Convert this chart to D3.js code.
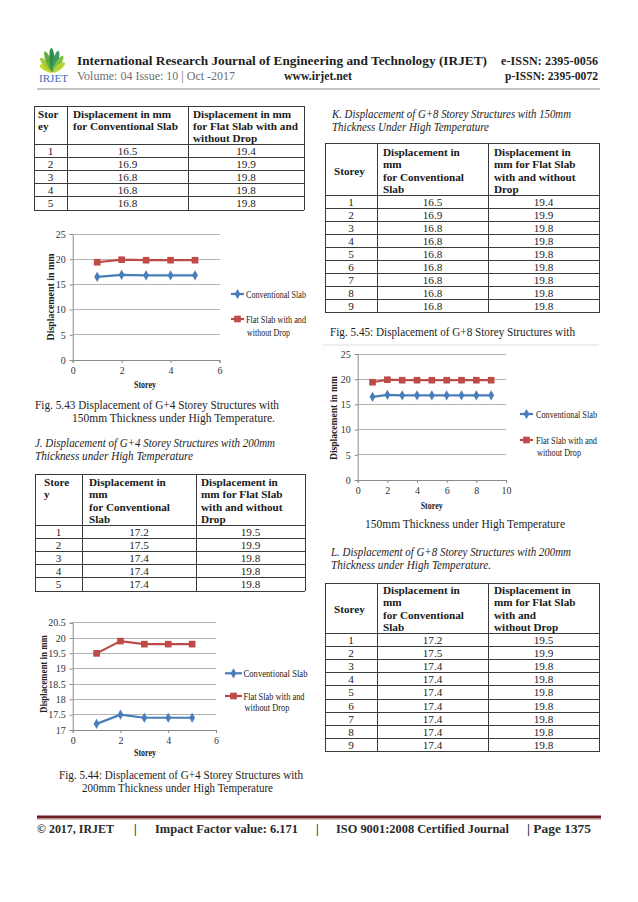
<!DOCTYPE html>
<html>
<head>
<meta charset="utf-8">
<script src="https://cdn.jsdelivr.net/npm/d3@7/dist/d3.min.js"></script>
<style>
  html, body { margin: 0; padding: 0; background: #fff; }
  svg { display: block; }
</style>
</head>
<body>
<svg id="page" width="638" height="902"></svg>
<script>
// ---------------- DATA ----------------
const storeys5 = [1, 2, 3, 4, 5];
const storeys9 = [1, 2, 3, 4, 5, 6, 7, 8, 9];
const conv150 = [16.5, 16.9, 16.8, 16.8, 16.8, 16.8, 16.8, 16.8, 16.8];
const flat150 = [19.4, 19.9, 19.8, 19.8, 19.8, 19.8, 19.8, 19.8, 19.8];
const conv200 = [17.2, 17.5, 17.4, 17.4, 17.4, 17.4, 17.4, 17.4, 17.4];
const flat200 = [19.5, 19.9, 19.8, 19.8, 19.8, 19.8, 19.8, 19.8, 19.8];
const yTicksA = [0, 5, 10, 15, 20, 25];
const yTicksB = [17, 17.5, 18, 18.5, 19, 19.5, 20, 20.5];
const xTicks5 = [0, 2, 4, 6];
const xTicks9 = [0, 2, 4, 6, 8, 10];
const seriesNames = ["Conventional Slab", "Flat Slab with and without Drop"];

// ---------------- HELPERS ----------------
const SERIF = "'Liberation Serif', 'Times New Roman', serif";
const svg = d3.select("#page");
const fmt = d3.format(".1f");

function T(sel, s, x, y, o = {}) {
  const t = sel.append("text").attr("x", x).attr("y", y).text(s)
    .attr("font-family", o.ff || SERIF)
    .attr("font-size", o.fs || 11)
    .attr("font-weight", o.fw || "normal")
    .attr("font-style", o.fi || "normal")
    .attr("fill", o.fill || "#222")
    .attr("text-anchor", o.anchor || "start");
  if (o.w) {
    if (o.fit) {
      const w0 = t.node().getComputedTextLength();
      if (w0 > o.w) t.attr("font-size", (o.fs || 11) * o.w / w0);
      t.attr("textLength", o.w).attr("lengthAdjust", "spacing");
    } else {
      t.attr("textLength", o.w).attr("lengthAdjust", "spacingAndGlyphs");
    }
  }
  return t;
}

// ---------------- HEADER ----------------
const logo = svg.append("g");
const leaves = [
  { a: -62, l: 15, c: "#c9d626" }, { a: -42, l: 19, c: "#a6c93a" },
  { a: -22, l: 22, c: "#5fae3f" }, { a: -4, l: 24, c: "#2f8f46" },
  { a: 14, l: 22, c: "#3b9a6a" }, { a: 32, l: 19, c: "#7fbf3f" },
  { a: 52, l: 15, c: "#b5d334" }
];
leaves.forEach(d => {
  logo.append("ellipse").attr("cx", 0).attr("cy", -d.l / 2).attr("rx", 2.7).attr("ry", d.l / 2)
    .attr("fill", d.c).attr("transform", `translate(53,72) rotate(${d.a})`);
});
T(logo, "IRJET", 39, 82, { fs: 9.5, fill: "#3b6db3", w: 29 });

T(svg, "International Research Journal of Engineering and Technology (IRJET)", 77, 65, { fs: 14.5, fw: "bold", fill: "#1e1e1e", w: 410, fit: true });
T(svg, "e-ISSN: 2395-0056", 501, 65, { fs: 12, fw: "bold", fill: "#1e1e1e", w: 97, fit: true });
T(svg, "Volume: 04 Issue: 10 | Oct -2017", 77, 80, { fs: 11.5, fill: "#6e6e6e", w: 158 });
T(svg, "www.irjet.net", 284, 80, { fs: 12, fw: "bold", fill: "#1e1e1e", w: 68 });
T(svg, "p-ISSN: 2395-0072", 505, 80, { fs: 12, fw: "bold", fill: "#1e1e1e", w: 93 });
svg.append("line").attr("x1", 37).attr("x2", 600).attr("y1", 89).attr("y2", 89)
  .attr("stroke", "#b0b0b0").attr("stroke-width", 1.5);

// ---------------- TABLES ----------------
function drawTable(cfg) {
  const g = svg.append("g");
  const [L, D1, D2, R] = cfg.cols;
  const bottom = cfg.hb + cfg.rowH * cfg.rows.length;
  const line = (x1, y1, x2, y2) => g.append("line").attr("x1", x1).attr("y1", y1).attr("x2", x2).attr("y2", y2)
    .attr("stroke", "#3a3a3a").attr("stroke-width", 1).attr("shape-rendering", "crispEdges");
  line(L, cfg.top, R, cfg.top);
  line(L, cfg.hb, R, cfg.hb);
  cfg.rows.forEach((r, i) => line(L, cfg.hb + cfg.rowH * (i + 1), R, cfg.hb + cfg.rowH * (i + 1)));
  [L, D1, D2, R].forEach(x => line(x, cfg.top, x, bottom));
  cfg.header.forEach(h => {
    h.lines.forEach((s, k) => T(g, s, h.x, h.y + k * cfg.lh, { fs: 11.2, fw: "bold", fill: "#1a1a1a" }));
  });
  cfg.rows.forEach((r, i) => {
    const y = cfg.hb + cfg.rowH * (i + 0.5) + 4;
    T(g, String(r[0]), (L + D1) / 2, y, { fs: 11.2, anchor: "middle" });
    T(g, fmt(r[1]), (D1 + D2) / 2, y, { fs: 11.2, anchor: "middle" });
    T(g, fmt(r[2]), (D2 + R) / 2, y, { fs: 11.2, anchor: "middle" });
  });
}

drawTable({
  cols: [34, 67, 188, 304], top: 106, hb: 144.5, rowH: 13.1, lh: 12,
  header: [
    { x: 38, y: 118, lines: ["Stor", "ey"] },
    { x: 73, y: 118, lines: ["Displacement in mm", "for Conventional Slab"] },
    { x: 193, y: 118, lines: ["Displacement in mm", "for Flat Slab with and", "without Drop"] }
  ],
  rows: storeys5.map((s, i) => [s, conv150[i], flat150[i]])
});

drawTable({
  cols: [35, 82, 196, 305], top: 474, hb: 525, rowH: 13.2, lh: 12.4,
  header: [
    { x: 44, y: 486, lines: ["Store", "y"] },
    { x: 89, y: 486, lines: ["Displacement in", "mm", "for Conventional", "Slab"] },
    { x: 201, y: 486, lines: ["Displacement in", "mm for Flat Slab", "with and without", "Drop"] }
  ],
  rows: storeys5.map((s, i) => [s, conv200[i], flat200[i]])
});

drawTable({
  cols: [325, 377, 488, 599], top: 143, hb: 195, rowH: 13.1, lh: 12.5,
  header: [
    { x: 334, y: 174.5, lines: ["Storey"] },
    { x: 383, y: 155.5, lines: ["Displacement in", "mm", "for Conventional", "Slab"] },
    { x: 494, y: 155.5, lines: ["Displacement in", "mm for Flat Slab", "with and without", "Drop"] }
  ],
  rows: storeys9.map((s, i) => [s, conv150[i], flat150[i]])
});

drawTable({
  cols: [325, 377, 488, 599], top: 583, hb: 633, rowH: 13.2, lh: 12.4,
  header: [
    { x: 334, y: 613, lines: ["Storey"] },
    { x: 383, y: 594, lines: ["Displacement in", "mm", "for Conventional", "Slab"] },
    { x: 494, y: 594, lines: ["Displacement in", "mm for Flat Slab", "with and", "without Drop"] }
  ],
  rows: storeys9.map((s, i) => [s, conv200[i], flat200[i]])
});

// ---------------- CAPTIONS / HEADINGS ----------------
const cap = { fs: 11.8, fill: "#1e1e1e" };
T(svg, "Fig. 5.43 Displacement of G+4 Storey Structures with", 35, 409, { ...cap, w: 244 });
T(svg, "150mm Thickness under High Temperature.", 72, 422, { ...cap, w: 203 });
T(svg, "J. Displacement of G+4 Storey Structures with 200mm", 35, 447, { ...cap, fi: "italic", w: 240 });
T(svg, "Thickness under High Temperature", 35, 460, { ...cap, fi: "italic", w: 158 });
T(svg, "Fig. 5.44: Displacement of G+4 Storey Structures with", 59, 779, { ...cap, w: 244 });
T(svg, "200mm Thickness under High Temperature", 82, 792, { ...cap, w: 191 });
T(svg, "K. Displacement of G+8 Storey Structures with 150mm", 332, 118, { ...cap, fi: "italic", w: 239 });
T(svg, "Thickness Under High Temperature", 332, 131, { ...cap, fi: "italic", w: 157 });
T(svg, "Fig. 5.45: Displacement of G+8 Storey Structures with", 330, 336, { ...cap, w: 245 });
svg.append("line").attr("x1", 323).attr("x2", 599).attr("y1", 345).attr("y2", 345)
  .attr("stroke", "#dcdcdc").attr("stroke-width", 1);
T(svg, "150mm Thickness under High Temperature", 365, 528, { ...cap, w: 200 });
T(svg, "L. Displacement of G+8 Storey Structures with 200mm", 331, 556, { ...cap, fi: "italic", w: 240 });
T(svg, "Thickness under High Temperature.", 331, 569, { ...cap, fi: "italic", w: 160 });

// ---------------- CHARTS ----------------
const BLUE = "#4a7ebb", RED = "#be4b48";
function drawChart(c) {
  const g = svg.append("g");
  const x = d3.scaleLinear().domain(c.xDomain).range([c.x0, c.x1]);
  const y = d3.scaleLinear().domain(c.yDomain).range([c.yb, c.yt]);
  g.selectAll(".grid").data(c.yTicks).enter().append("line")
    .attr("x1", c.x0).attr("x2", c.x1).attr("y1", d => y(d)).attr("y2", d => y(d))
    .attr("stroke", d => d === c.yDomain[0] ? "#8a8a8a" : "#b4b4b4").attr("stroke-width", 1)
    .attr("shape-rendering", "crispEdges");
  const ya = g.append("g").attr("transform", `translate(${c.x0},0)`)
    .call(d3.axisLeft(y).tickValues(c.yTicks).tickSize(3).tickPadding(4).tickFormat(d => String(d)));
  ya.select(".domain").attr("stroke", "#8a8a8a");
  ya.selectAll(".tick line").attr("stroke", "#8a8a8a");
  ya.selectAll(".tick text").attr("font-family", SERIF).attr("font-size", 10).attr("fill", "#333");
  const xa = g.append("g").attr("transform", `translate(0,${c.yb})`)
    .call(d3.axisBottom(x).tickValues(c.xTicks).tickSize(3).tickPadding(4).tickFormat(d => String(d)));
  xa.select(".domain").attr("stroke", "#8a8a8a");
  xa.selectAll(".tick line").attr("stroke", "#8a8a8a");
  xa.selectAll(".tick text").attr("font-family", SERIF).attr("font-size", 10).attr("fill", "#333");
  T(g, "Storey", c.stx, c.sty, { fs: 10, fw: "bold", anchor: "middle", w: 22 });
  T(g, "Displacement in mm", 0, 0, { fs: 10, fw: "bold", anchor: "middle", w: c.ytw })
    .attr("transform", `translate(${c.ytx},${c.yty}) rotate(-90)`);
  const line = d3.line().x(d => x(d[0])).y(d => y(d[1]));
  const sets = [
    { pts: c.xs.map((s, i) => [s, c.conv[i]]), color: BLUE, shape: d3.symbolDiamond, size: 30 },
    { pts: c.xs.map((s, i) => [s, c.flat[i]]), color: RED, shape: d3.symbolSquare, size: 44 }
  ];
  sets.forEach(s => {
    g.append("path").attr("d", line(s.pts)).attr("fill", "none")
      .attr("stroke", s.color).attr("stroke-width", 2.2);
    g.selectAll(null).data(s.pts).enter().append("path")
      .attr("d", d3.symbol().type(s.shape).size(s.size))
      .attr("transform", d => `translate(${x(d[0])},${y(d[1])})`)
      .attr("fill", s.color);
  });
  const lg = c.legend;
  [[lg.y1, BLUE, d3.symbolDiamond, 30], [lg.y2, RED, d3.symbolSquare, 44]].forEach(([yy, col, sh, sz]) => {
    g.append("line").attr("x1", lg.lx0).attr("x2", lg.lx1).attr("y1", yy).attr("y2", yy)
      .attr("stroke", col).attr("stroke-width", 2.2);
    g.append("path").attr("d", d3.symbol().type(sh).size(sz))
      .attr("transform", `translate(${(lg.lx0 + lg.lx1) / 2},${yy})`).attr("fill", col);
  });
  T(g, lg.t1, lg.tx, lg.y1 + 3.5, { fs: 10, fill: "#222", w: lg.w1 });
  T(g, "Flat Slab with and", lg.tx, lg.y2 + 3.5, { fs: 10, fill: "#222", w: lg.w2 });
  T(g, "without Drop", lg.tx + 1, lg.y3 + 3.5, { fs: 10, fill: "#222", w: lg.w3 });
}

drawChart({
  x0: 72.7, x1: 219.5, yt: 234, yb: 360, xDomain: [0, 6], yDomain: [0, 25],
  xTicks: xTicks5, yTicks: yTicksA, xs: storeys5,
  conv: conv150.slice(0, 5), flat: flat150.slice(0, 5),
  stx: 145, sty: 388, ytx: 54, yty: 297, ytw: 87,
  legend: { lx0: 231, lx1: 244, tx: 246, y1: 294, y2: 319, y3: 332.5, t1: "Conventional Slab", w1: 60, w2: 60, w3: 43 }
});

drawChart({
  x0: 72.7, x1: 216, yt: 622.7, yb: 730, xDomain: [0, 6], yDomain: [17, 20.5],
  xTicks: xTicks5, yTicks: yTicksB, xs: storeys5,
  conv: conv200.slice(0, 5), flat: flat200.slice(0, 5),
  stx: 145, sty: 756, ytx: 47, yty: 674, ytw: 78,
  legend: { lx0: 225, lx1: 242, tx: 243.5, y1: 673.3, y2: 696, y3: 707, t1: "Conventional  Slab", w1: 64, w2: 61, w3: 45 }
});

drawChart({
  x0: 357.7, x1: 506, yt: 354, yb: 480, xDomain: [0, 10], yDomain: [0, 25],
  xTicks: xTicks9, yTicks: yTicksA, xs: storeys9,
  conv: conv150, flat: flat150,
  stx: 431.7, sty: 509, ytx: 337, yty: 418, ytw: 84,
  legend: { lx0: 520, lx1: 533, tx: 536, y1: 414, y2: 440, y3: 452, t1: "Conventional Slab", w1: 61, w2: 61, w3: 44 }
});

// ---------------- FOOTER ----------------
svg.append("line").attr("x1", 37).attr("x2", 601).attr("y1", 817).attr("y2", 817)
  .attr("stroke", "#6b1f22").attr("stroke-width", 3);
svg.append("line").attr("x1", 37).attr("x2", 601).attr("y1", 819.3).attr("y2", 819.3)
  .attr("stroke", "#c7a9a9").attr("stroke-width", 1);
const ft = { fs: 12, fw: "bold", fill: "#2a2a2a" };
T(svg, "© 2017, IRJET", 37, 833, { ...ft, w: 77 });
T(svg, "|", 134, 833, ft);
T(svg, "Impact Factor value: 6.171", 155, 833, { ...ft, w: 143 });
T(svg, "|", 316, 833, ft);
T(svg, "ISO 9001:2008 Certified Journal", 336, 833, { ...ft, w: 173 });
T(svg, "| Page 1375", 527, 833, { ...ft, w: 64 });
</script>
</body>
</html>
